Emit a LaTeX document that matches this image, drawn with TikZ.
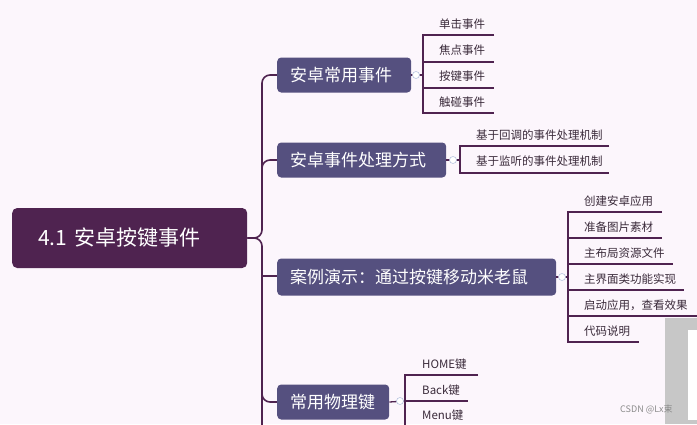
\documentclass[tikz,border=0pt]{standalone}
\usepackage{fontspec}
\setmainfont{Noto Sans CJK SC}
\begin{document}
\begin{tikzpicture}[x=1pt,y=-1pt,
  root/.style={fill=rootc,rounded corners=5pt,text=white,font=\fontsize{21}{24}\selectfont,anchor=west,minimum height=60pt,inner xsep=0pt,align=left},
  br/.style={fill=brc,rounded corners=4pt,text=white,font=\fontsize{17}{19}\selectfont,anchor=west,minimum height=35pt,inner xsep=0pt,align=left},
  leaf/.style={font=\fontsize{11.5}{13}\selectfont,text=leafc,anchor=west,inner sep=0pt},
  ln/.style={draw=linec,line width=1.6pt},
  tn/.style={draw=linec,line width=1.3pt},
  dot/.style={circle,draw=circc,fill=white,minimum size=7pt,inner sep=0pt,line width=0.6pt}]
\definecolor{bg}{HTML}{FCF6FC}
\definecolor{rootc}{HTML}{4F2350}
\definecolor{brc}{HTML}{55507F}
\definecolor{linec}{HTML}{4F2350}
\definecolor{leafc}{HTML}{3A2A3A}
\definecolor{circc}{HTML}{B8C4E0}
\fill[bg] (0,0) rectangle (697,424);
\useasboundingbox (0,0) rectangle (697,424);
\node[root,minimum width=235pt,text width=235pt] (r) at (12,238) {\hspace*{26pt}4.1 安卓按键事件};
\draw[ln,rounded corners=8pt] (r.east) -| (262,92) |- (277,75);
\draw[ln,rounded corners=8pt] (262,200) |- (277,160);
\draw[ln,rounded corners=8pt] (r.east) -| (262,440);
\draw[ln] (262,276) -- (277,276);
\draw[ln,rounded corners=8pt] (262,380) |- (277,402);
\node[br,minimum width=134pt,text width=134pt] (b1) at (277,75) {\hspace*{13pt}安卓常用事件};
\node[br,minimum width=169pt,text width=169pt] (b2) at (277,160) {\hspace*{13pt}安卓事件处理方式};
\node[br,minimum width=279pt,text width=279pt,minimum height=37pt] (b3) at (277,277) {\hspace*{13pt}案例演示：通过按键移动米老鼠};
\node[br,minimum width=112pt,text width=112pt] (b4) at (277,402) {\hspace*{13pt}常用物理键};
% B1
\draw[tn] (b1.east) -- (423,75);
\node[dot] (c1) at (416,75) {};
\draw[tn] (494,35) -- (423,35) -- (423,113) -- (494,113);
\foreach \y in {62,88} \draw[tn] (423,\y) -- (494,\y);
\node[leaf] (l11) at (439,24) {单击事件};
\node[leaf] (l12) at (439,50) {焦点事件};
\node[leaf] (l13) at (439,76) {按键事件};
\node[leaf] (l14) at (439,102) {触碰事件};
% B2
\draw[tn] (b2.east) -- (460,160);
\node[dot] (c2) at (453,160) {};
\draw[tn] (609,146) -- (460,146) -- (460,173) -- (609,173);
\node[leaf] (l21) at (476,135) {基于回调的事件处理机制};
\node[leaf] (l22) at (476,161) {基于监听的事件处理机制};
% B3
\draw[tn] (b3.east) -- (568,277);
\node[dot] (c3) at (562,277) {};
\draw[tn] (662,212) -- (568,212) -- (568,342) -- (639,342);
\draw[tn] (568,238) -- (662,238);
\draw[tn] (568,264) -- (673,264);
\draw[tn] (568,290) -- (684,290);
\draw[tn] (568,316) -- (697,316);
\node[leaf] (l31) at (584,201) {创建安卓应用};
\node[leaf] (l32) at (584,227) {准备图片素材};
\node[leaf] (l33) at (584,253) {主布局资源文件};
\node[leaf] (l34) at (584,279) {主界面类功能实现};
\node[leaf] (l35) at (584,305) {启动应用，查看效果};
\node[leaf] (l36) at (584,331) {代码说明};
% B4
\draw[tn] (b4.east) -- (405,401);
\node[dot] (c4) at (400,401) {};
\draw[tn] (478,375) -- (405,375) -- (405,430);
\draw[tn] (405,401) -- (468,401);
\node[leaf] (l41) at (422,364) {HOME键};
\node[leaf] (l42) at (422,390) {Back键};
\node[leaf] (l43) at (422,415) {Menu键};
% overlay
\fill[black!22] (665,318) rectangle (697,424);
\fill[white] (688,330) rectangle (697,420);
\node[font=\fontsize{9}{10}\selectfont,text=black!45,anchor=west,inner sep=0pt] (wm) at (620,409) {CSDN @Lx束};
\end{tikzpicture}
\end{document}
